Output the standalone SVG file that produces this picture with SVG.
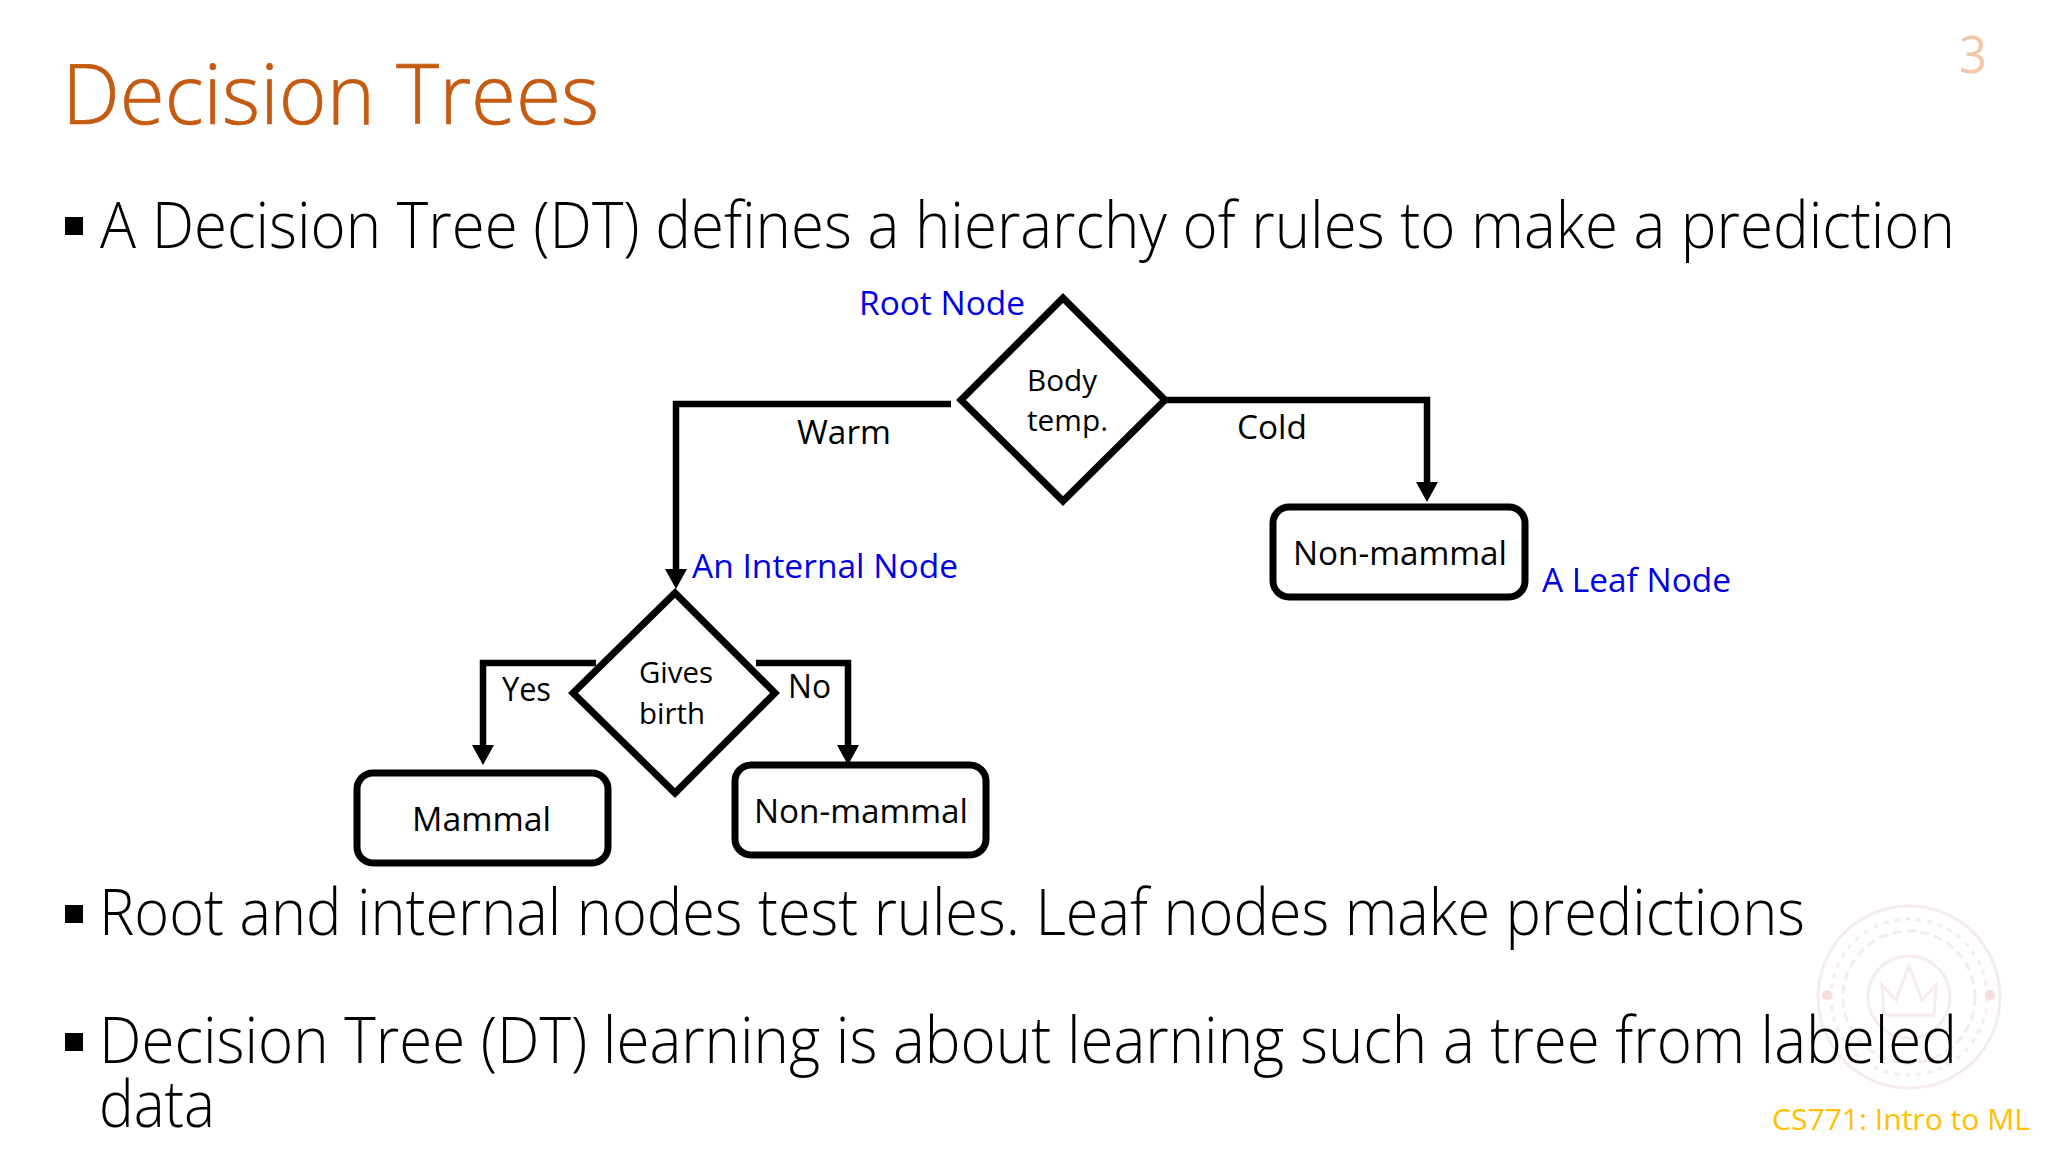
<svg xmlns="http://www.w3.org/2000/svg" width="2048" height="1152" viewBox="0 0 2048 1152">
<style>
text{font-family:"Open Sans","Noto Sans","Liberation Sans",sans-serif}
.body{font-size:64px;font-weight:300;fill:#000}
.lab{font-size:33px;fill:#000}
.small{font-size:30px;fill:#000}
.note{font-size:33px;fill:#0000e6}
.shape{fill:#fff;stroke:#000;stroke-width:7;stroke-linejoin:miter}
.box{fill:#fff;stroke:#000;stroke-width:7}
.wire{fill:none;stroke:#000;stroke-width:6.5;stroke-linejoin:miter}
.seal{fill:none;stroke:#f6ecec;stroke-width:3}
</style>
<defs>
<marker id="arrow" markerUnits="userSpaceOnUse" markerWidth="22" markerHeight="24" refX="0" refY="12" orient="auto"><path d="M0 1L20 12L0 23Z" fill="#000"/></marker>
</defs>
<rect width="2048" height="1152" fill="#fff"/>
<g id="seal">
<circle class="seal" cx="1909" cy="997" r="91"/>
<circle class="seal" cx="1909" cy="997" r="66" stroke-dasharray="9 5" stroke-width="5"/>
<circle class="seal" cx="1909" cy="997" r="41"/>
<circle class="seal" cx="1909" cy="997" r="78" stroke-dasharray="5 6" stroke-width="7"/>
<path class="seal" d="M1909 966L1922 1000L1936 985L1934 1015L1884 1015L1882 985L1896 1000Z"/>
<circle cx="1827" cy="995" r="5" fill="#f8dde0"/>
<circle cx="1990" cy="995" r="5" fill="#f8dde0"/>
</g>
<text id="title" x="62" y="124" font-size="83" fill="#C55A11" stroke="#C55A11" stroke-width="0.7" textLength="537" lengthAdjust="spacingAndGlyphs" style="font-weight:300">Decision Trees</text>
<text id="page" x="1959" y="73" font-size="52" fill="#F4C7A8" textLength="28" lengthAdjust="spacingAndGlyphs">3</text>
<g id="bullets">
<rect x="65" y="217" width="18" height="18"/>
<rect x="65" y="905" width="18" height="18"/>
<rect x="65" y="1033" width="18" height="18"/>
<text class="body" x="100" y="248" textLength="1855" lengthAdjust="spacingAndGlyphs">A Decision Tree (DT) defines a hierarchy of rules to make a prediction</text>
<text class="body" x="99" y="935" textLength="1706" lengthAdjust="spacingAndGlyphs">Root and internal nodes test rules. Leaf nodes make predictions</text>
<text class="body" x="99" y="1063" textLength="1858" lengthAdjust="spacingAndGlyphs">Decision Tree (DT) learning is about learning such a tree from labeled</text>
<text class="body" x="99" y="1127" textLength="116" lengthAdjust="spacingAndGlyphs">data</text>
</g>
<g id="connectors">
<path class="wire" marker-end="url(#arrow)" d="M951 404H676V569"/>
<path class="wire" marker-end="url(#arrow)" d="M1166 400H1427V482"/>
<path class="wire" marker-end="url(#arrow)" d="M596 663H483V745"/>
<path class="wire" marker-end="url(#arrow)" d="M756 663H848V745"/>
<text class="lab" x="797" y="444" textLength="94" lengthAdjust="spacingAndGlyphs">Warm</text>
<text class="lab" x="1237" y="439" textLength="70" lengthAdjust="spacingAndGlyphs">Cold</text>
<text class="lab" x="502" y="701" textLength="49" lengthAdjust="spacingAndGlyphs">Yes</text>
<text class="lab" x="788" y="698" textLength="43" lengthAdjust="spacingAndGlyphs">No</text>
</g>
<g id="node-body-temp">
<path class="shape" d="M1063 298L1165 400L1063 501L961 400Z"/>
<text class="small" x="1027" y="391" textLength="70" lengthAdjust="spacingAndGlyphs">Body</text>
<text class="small" x="1027" y="431" textLength="81" lengthAdjust="spacingAndGlyphs">temp.</text>
</g>
<g id="node-gives-birth">
<path class="shape" d="M675 593L775 693L675 793L573 693Z"/>
<text class="small" x="639" y="683" textLength="74" lengthAdjust="spacingAndGlyphs">Gives</text>
<text class="small" x="639" y="724" textLength="66" lengthAdjust="spacingAndGlyphs">birth</text>
</g>
<g id="node-non-mammal-top">
<rect class="box" x="1273" y="507" width="252" height="90" rx="16"/>
<text class="lab" x="1293" y="565" textLength="214" lengthAdjust="spacingAndGlyphs">Non-mammal</text>
</g>
<g id="node-mammal">
<rect class="box" x="357" y="773" width="251" height="90" rx="16"/>
<text class="lab" x="412" y="831" textLength="139" lengthAdjust="spacingAndGlyphs">Mammal</text>
</g>
<g id="node-non-mammal-bottom">
<rect class="box" x="735" y="765" width="251" height="90" rx="16"/>
<text class="lab" x="754" y="823" textLength="214" lengthAdjust="spacingAndGlyphs">Non-mammal</text>
</g>
<g id="annotations">
<text class="note" x="859" y="315" textLength="166" lengthAdjust="spacingAndGlyphs">Root Node</text>
<text class="note" x="692" y="578" textLength="266" lengthAdjust="spacingAndGlyphs">An Internal Node</text>
<text class="note" x="1542" y="592" textLength="189" lengthAdjust="spacingAndGlyphs">A Leaf Node</text>
</g>
<text id="footer" x="1772" y="1130" font-size="29" fill="#FFC000" textLength="258" lengthAdjust="spacingAndGlyphs">CS771: Intro to ML</text>
</svg>
